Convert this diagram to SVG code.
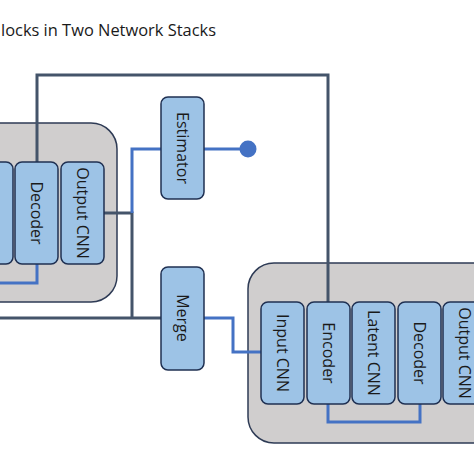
<svg xmlns="http://www.w3.org/2000/svg" width="474" height="474" viewBox="0 0 474 474">
<style>
.stack{fill:#d0cece;stroke:#2e3b55;stroke-width:1.5}
.blk{fill:#9dc3e6;stroke:#1f3052;stroke-width:1.5}
.lbl{font-family:"Open Sans","Liberation Sans",sans-serif;font-size:16px;fill:#1a1a1a;text-anchor:middle;dominant-baseline:central}
.dark{fill:none;stroke:#44546a;stroke-width:3}
.blue{fill:none;stroke:#4472c4;stroke-width:3}
</style>
<rect width="474" height="474" fill="#ffffff"/>
<text x="1" y="36" font-family="'Open Sans','Liberation Sans',sans-serif" font-size="16.5" fill="#1a1a1a" textLength="215" lengthAdjust="spacingAndGlyphs">locks in Two Network Stacks</text>

<g id="stack-left">
<rect class="stack" x="-60" y="123" width="177" height="179" rx="26"/>
</g>
<g id="stack-right">
<rect class="stack" x="248" y="263" width="260" height="180" rx="26"/>
</g>

<g id="connectors">
<polyline class="dark" points="37,162 37,75 328,75 328,302"/>
<polyline class="dark" points="104,213 132,213 132,318"/>
<polyline class="dark" points="0,318 161,318"/>
<polyline class="blue" points="132,213 132,149 161,149"/>
<polyline class="blue" points="204,149 242,149"/>
<circle cx="248" cy="149" r="8.5" fill="#4472c4"/>
<polyline class="blue" points="37,264 37,283 0,283"/>
<polyline class="blue" points="204,318 233,318 233,352 261,352"/>
<polyline class="blue" points="328,404 328,422 420,422 420,404"/>
</g>

<g id="left-block-0"><rect class="blk" x="-30" y="162" width="43" height="102" rx="7"/></g>
<g id="left-decoder"><rect class="blk" x="15" y="162" width="43" height="102" rx="7"/><text class="lbl" transform="translate(36.5,213) rotate(90)">Decoder</text></g>
<g id="left-output-cnn"><rect class="blk" x="61" y="162" width="43" height="102" rx="7"/><text class="lbl" transform="translate(82.5,213) rotate(90)">Output CNN</text></g>

<g id="estimator"><rect class="blk" x="161" y="97" width="43" height="102" rx="7"/><text class="lbl" transform="translate(182.5,148) rotate(90)">Estimator</text></g>
<g id="merge"><rect class="blk" x="161" y="267" width="43" height="103" rx="7"/><text class="lbl" transform="translate(182.5,318) rotate(90)">Merge</text></g>

<g id="right-input-cnn"><rect class="blk" x="261" y="302" width="43" height="102" rx="7"/><text class="lbl" transform="translate(282.5,353) rotate(90)">Input CNN</text></g>
<g id="right-encoder"><rect class="blk" x="307" y="302" width="43" height="102" rx="7"/><text class="lbl" transform="translate(328.5,353) rotate(90)">Encoder</text></g>
<g id="right-latent-cnn"><rect class="blk" x="352" y="302" width="43" height="102" rx="7"/><text class="lbl" transform="translate(373.5,353) rotate(90)">Latent CNN</text></g>
<g id="right-decoder"><rect class="blk" x="398" y="302" width="43" height="102" rx="7"/><text class="lbl" transform="translate(419.5,353) rotate(90)">Decoder</text></g>
<g id="right-output-cnn"><rect class="blk" x="443" y="302" width="43" height="102" rx="7"/><text class="lbl" transform="translate(464.5,353) rotate(90)">Output CNN</text></g>
</svg>
